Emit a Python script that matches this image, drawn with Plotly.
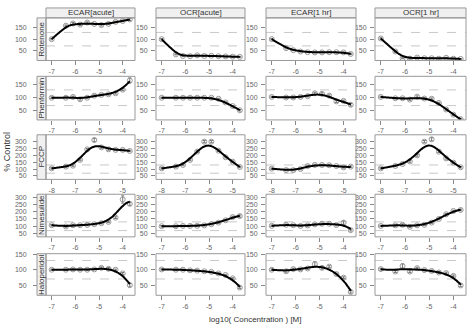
import numpy as np
import plotly.graph_objects as go

W, H = 474, 329

col_names = ["ECAR[acute]", "OCR[acute]", "ECAR[1 hr]", "OCR[1 hr]"]
row_names = ["Rotenone", "Phenformin", "FCCP", "Nimesulide", "Haloperidol"]

x_std = [-7.0, -6.4, -6.1, -5.8, -5.5, -5.2, -4.9, -4.6, -4.3, -4.0, -3.7]
x_fccp = [-8.0, -7.4, -7.1, -6.8, -6.5, -6.2, -5.9, -5.6, -5.3, -5.0, -4.7]

rot_ecar_acute = [100, 160, 170, 165, 174, 168, 163, 168, 177, 181, 188]
rot_ocr_acute = [100, 32, 25, 24, 28, 25, 26, 24, 23, 22, 21]
rot_ecar_1hr = [100, 60, 51, 45, 42, 41, 41, 42, 42, 41, 34]
rot_ocr_1hr = [103, 45, 15, 13, 18, 15, 15, 13, 17, 13, 12]

phe_ecar_acute = [100, 100, 103, 94, 100, 108, 111, 113, 117, 131, 166]
phe_ocr_acute = [100, 100, 100, 100, 100, 100, 100, 96, 82, 68, 52]
phe_ecar_1hr = [103, 101, 101, 103, 106, 117, 115, 108, 86, 88, 73]
phe_ocr_1hr = [103, 98, 98, 93, 104, 97, 96, 80, 55, 35, 18]

fccp_ecar_acute = [105, 118, 125, 167, 244, 312, 258, 244, 240, 240, 232]
fccp_ocr_acute = [105, 118, 130, 167, 227, 300, 300, 234, 186, 154, 115]
fccp_ecar_1hr = [103, 93, 92, 100, 122, 130, 130, 128, 122, 112, 118]
fccp_ocr_1hr = [105, 123, 137, 156, 200, 300, 317, 227, 178, 147, 113]

nim_ecar_acute = [107, 98, 107, 107, 109, 114, 121, 130, 159, 284, 254]
nim_ocr_acute = [100, 100, 102, 102, 103, 106, 114, 125, 141, 163, 170]
nim_ecar_1hr = [103, 110, 107, 102, 105, 113, 117, 117, 108, 125, 73]
nim_ocr_1hr = [102, 106, 110, 96, 106, 110, 125, 150, 182, 205, 212]

hal_ecar_acute = [100, 100, 101, 100, 100, 101, 106, 103, 100, 88, 50]
hal_ocr_acute = [101, 100, 100, 98, 97, 95, 93, 88, 83, 72, 42]
hal_ecar_1hr = [100, 95, 102, 101, 104, 118, 106, 110, 86, 74, 28]
hal_ocr_1hr = [102, 94, 112, 94, 105, 99, 96, 91, 89, 80, 49]

err_rot = [[3, 3, 4, 4, 3, 3, 4, 3, 3, 3, 5], [3, 2, 2, 2, 2, 2, 2, 2, 2, 2, 2],
           [3, 3, 2, 2, 2, 2, 2, 2, 2, 2, 3], [3, 3, 2, 2, 2, 2, 2, 2, 2, 2, 2]]
err_phe = [[3, 2, 3, 3, 2, 3, 3, 3, 3, 4, 10], [2, 2, 2, 2, 2, 2, 2, 2, 2, 2, 3],
           [3, 3, 3, 3, 3, 4, 4, 3, 4, 3, 5], [3, 3, 3, 3, 3, 3, 3, 3, 3, 3, 3]]
err_fccp = [[5, 5, 5, 6, 6, 12, 6, 6, 5, 5, 5], [5, 5, 5, 6, 6, 8, 8, 6, 5, 5, 5],
            [5, 5, 5, 5, 5, 5, 5, 5, 5, 5, 5], [5, 5, 5, 6, 6, 8, 12, 6, 5, 5, 5]]
err_nim = [[5, 5, 5, 5, 5, 5, 5, 5, 6, 25, 10], [5, 5, 5, 5, 5, 5, 5, 5, 5, 6, 8],
           [5, 5, 5, 5, 5, 5, 5, 5, 5, 12, 6], [5, 5, 6, 5, 5, 5, 5, 5, 5, 5, 6]]
err_hal = [[2, 2, 2, 2, 2, 2, 3, 4, 2, 3, 6], [2, 2, 2, 2, 2, 2, 2, 2, 2, 2, 3],
           [3, 3, 3, 3, 3, 8, 4, 3, 3, 3, 4], [3, 3, 7, 3, 3, 3, 3, 3, 3, 3, 4]]

rows_y = [
    [rot_ecar_acute, rot_ocr_acute, rot_ecar_1hr, rot_ocr_1hr],
    [phe_ecar_acute, phe_ocr_acute, phe_ecar_1hr, phe_ocr_1hr],
    [fccp_ecar_acute, fccp_ocr_acute, fccp_ecar_1hr, fccp_ocr_1hr],
    [nim_ecar_acute, nim_ocr_acute, nim_ecar_1hr, nim_ocr_1hr],
    [hal_ecar_acute, hal_ocr_acute, hal_ecar_1hr, hal_ocr_1hr],
]
rows_err = [err_rot, err_phe, err_fccp, err_nim, err_hal]
rows_x = [x_std, x_std, x_fccp, x_std, x_std]

row_yrange = [[5, 195], [15, 182], [25, 350], [27, 320], [17, 152]]
row_yticks = [[50, 100, 150], [50, 100, 150], [50, 100, 150, 200, 250, 300],
              [50, 100, 150, 200, 250, 300], [50, 100, 150]]
xticks_std = [-7, -6, -5, -4]
xticks_fccp = [-8, -7, -6, -5]
row_xticks = [xticks_std, xticks_std, xticks_fccp, xticks_std, xticks_std]
ref_lines = [70, 130]

# layout geometry (pixels)
col_px = [(46, 135), (156, 245), (266, 356), (375, 466)]
row_px = [(15, 58), (74, 118), (133, 178), (193, 236), (253, 295)]
strip_left = 37
strip_top = 5


def smooth(x, y, bw=0.34, n=90):
    x = np.asarray(x, float)
    y = np.asarray(y, float)
    xs = np.linspace(x.min(), x.max(), n)
    out = []
    for x0 in xs:
        w = np.exp(-0.5 * ((x - x0) / bw) ** 2)
        sw = w.sum()
        mx = (w * x).sum() / sw
        my = (w * y).sum() / sw
        den = (w * (x - mx) ** 2).sum()
        b = (w * (x - mx) * (y - my)).sum() / den if den > 0 else 0
        out.append(my + b * (x0 - mx))
    return xs, np.array(out)


fig = go.Figure()
layout = {}
shapes = []
annotations = []
FONT = "Liberation Sans, Arial, sans-serif"
TICKFONT = dict(family=FONT, size=7, color="#666")
BORDER = "#999"

for r in range(5):
    xr = rows_x[r]
    xmin = xr[0]
    xrange = [xmin - 0.24, xmin + 3.52]
    for c in range(4):
        i = r * 4 + c + 1
        xa = "x" if i == 1 else f"x{i}"
        ya = "y" if i == 1 else f"y{i}"
        xkey = "xaxis" if i == 1 else f"xaxis{i}"
        ykey = "yaxis" if i == 1 else f"yaxis{i}"
        x0, x1 = col_px[c]
        y0, y1 = row_px[r]
        layout[xkey] = dict(
            domain=[x0 / W, x1 / W], anchor=ya, range=xrange,
            tickvals=row_xticks[r], ticktext=[str(v) for v in row_xticks[r]],
            ticks="outside", ticklen=4, tickcolor="#888", tickwidth=1,
            showgrid=False, zeroline=False, showline=False,
            tickfont=TICKFONT, fixedrange=True,
        )
        yax = dict(
            domain=[1 - y1 / H, 1 - y0 / H], range=row_yrange[r],
            tickvals=row_yticks[r], ticktext=[str(v) for v in row_yticks[r]],
            ticks="outside", ticklen=4, tickcolor="#888", tickwidth=1,
            showgrid=False, zeroline=False, showline=False,
            tickfont=TICKFONT, fixedrange=True,
        )
        if c == 0:
            yax.update(anchor="free", position=strip_left / W, ticklabelstandoff=5)
        else:
            yax.update(anchor=xa, ticklabelstandoff=2)
        layout[ykey] = yax

        yv = rows_y[r][c]
        ev = rows_err[r][c]
        for v in ref_lines:
            shapes.append(dict(type="line", xref=f"{xa} domain", yref=ya,
                               x0=0, x1=1, y0=v, y1=v, layer="below",
                               line=dict(color="#c8c8c8", width=1, dash="dash")))
        fig.add_trace(go.Scatter(
            x=xr, y=yv, xaxis=xa, yaxis=ya, mode="markers",
            marker=dict(symbol="circle-open", size=5, color="#999",
                        line=dict(width=1, color="#999")),
            error_y=dict(type="data", array=ev, visible=True, color="#777",
                         thickness=1, width=1.5),
            showlegend=False, hoverinfo="skip"))
        xs, ys = smooth(xr, yv)
        fig.add_trace(go.Scatter(
            x=xs, y=ys, xaxis=xa, yaxis=ya, mode="lines",
            line=dict(color="black", width=2, shape="spline"),
            showlegend=False, hoverinfo="skip"))
        shapes.append(dict(type="rect", xref="paper", yref="paper",
                           x0=x0 / W, x1=x1 / W, y0=1 - y1 / H, y1=1 - y0 / H,
                           line=dict(color=BORDER, width=1), layer="above"))
        if r == 0:
            shapes.append(dict(type="rect", xref="paper", yref="paper",
                               x0=x0 / W, x1=x1 / W, y0=1 - y0 / H, y1=1 - strip_top / H,
                               fillcolor="#f0f0f0", line=dict(color=BORDER, width=1),
                               layer="below"))
            annotations.append(dict(text=col_names[c], xref="paper", yref="paper",
                                    x=(x0 + x1) / 2 / W, y=1 - (y0 + strip_top) / 2 / H,
                                    showarrow=False, xanchor="center", yanchor="middle",
                                    font=dict(family=FONT, size=8, color="#333")))
        if c == 0:
            shapes.append(dict(type="rect", xref="paper", yref="paper",
                               x0=strip_left / W, x1=x0 / W, y0=1 - y1 / H, y1=1 - y0 / H,
                               fillcolor="#f0f0f0", line=dict(color=BORDER, width=1),
                               layer="below"))
            annotations.append(dict(text=row_names[r], xref="paper", yref="paper",
                                    x=(strip_left + x0) / 2 / W, y=1 - (y0 + y1) / 2 / H,
                                    showarrow=False, textangle=-90,
                                    xanchor="center", yanchor="middle",
                                    font=dict(family=FONT, size=8, color="#333")))

annotations.append(dict(text="% Control", xref="paper", yref="paper",
                        x=7 / W, y=1 - 150 / H, showarrow=False, textangle=-90,
                        xanchor="center", yanchor="middle",
                        font=dict(family=FONT, size=9, color="#333")))
annotations.append(dict(text="log10( Concentration ) [M]", xref="paper", yref="paper",
                        x=256 / W, y=1 - 319 / H, showarrow=False,
                        xanchor="center", yanchor="middle",
                        font=dict(family=FONT, size=8, color="#333")))

fig.update_layout(
    width=W, height=H, margin=dict(l=0, r=0, t=0, b=0),
    paper_bgcolor="white", plot_bgcolor="white",
    shapes=shapes, annotations=annotations, showlegend=False,
    **layout)

fig.write_html("out.html")
